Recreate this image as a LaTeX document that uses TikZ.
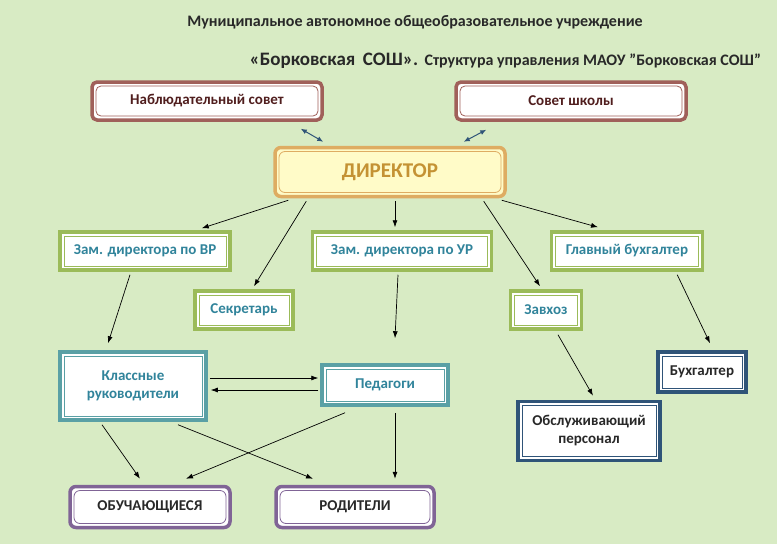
\documentclass[tikz,border=0pt]{standalone}
\usepackage{fontspec}
\setmainfont{Carlito}
\usetikzlibrary{arrows.meta,calc}
\definecolor{bg}{RGB}{216,235,196}
\definecolor{brn}{RGB}{160,96,90}
\definecolor{brntxt}{RGB}{80,30,30}
\definecolor{gold}{RGB}{222,172,98}
\definecolor{goldtxt}{RGB}{196,146,52}
\definecolor{dirfill}{RGB}{255,251,200}
\definecolor{grn}{RGB}{155,187,89}
\definecolor{teal}{RGB}{49,132,155}
\definecolor{tealb}{RGB}{90,160,165}
\definecolor{navy}{RGB}{47,84,120}
\definecolor{purp}{RGB}{128,100,150}
\definecolor{dk}{RGB}{40,40,40}
\tikzset{
  box/.style n args={3}{draw=#1,line width=3.5pt,fill=#2,text=#3,font=\bfseries\fontsize{15}{18}\selectfont,align=center,inner sep=0pt,
    path picture={\draw[#1,line width=0.8pt] ([shift={(4pt,-4pt)}]path picture bounding box.north west) rectangle ([shift={(-4pt,4pt)}]path picture bounding box.south east);}},
  sz/.style 2 args={minimum width=#1pt,minimum height=#2pt},
  conn/.style={-{Latex[length=7pt,width=5pt]},line width=0.7pt,draw=black},
  dbl/.style={{Latex[length=6pt,width=5pt]}-{Latex[length=6pt,width=5pt]},line width=1pt,draw=navy}
}
\begin{document}
\begin{tikzpicture}[x=1pt,y=-1pt]
\useasboundingbox[fill=bg] (0,0) rectangle (777,544);
\node[font=\bfseries\fontsize{16}{19}\selectfont,text=dk] (t1) at (415,22) {Муниципальное автономное общеобразовательное учреждение};
\node[font=\bfseries\fontsize{19}{22}\selectfont,text=dk,anchor=west] (t2) at (246,61) {«Борковская\, СОШ».};
\node[font=\bfseries\fontsize{16}{19}\selectfont,text=dk,anchor=west] (t3) at (421,61) {Структура управления МАОУ "Борковская СОШ"};

\node[box={brn}{white}{brntxt},sz={230}{38},rounded corners=5pt] (ns) at (207,101) {Наблюдательный совет};
\node[box={brn}{white}{brntxt},sz={230}{38},rounded corners=5pt] (ss) at (571,101) {Совет школы};
\node[box={gold}{dirfill}{goldtxt},sz={230}{49},rounded corners=6pt,font=\bfseries\fontsize{21}{24}\selectfont] (dir) at (390,172) {ДИРЕКТОР};

\node[box={grn}{white}{teal},sz={170}{38}] (vr) at (145,251) {Зам. директора по ВР};
\node[box={grn}{white}{teal},sz={179}{38}] (ur) at (402,251) {Зам. директора по  УР};
\node[box={grn}{white}{teal},sz={151}{38}] (gb) at (627,251) {Главный бухгалтер};
\node[box={grn}{white}{teal},sz={98}{38}] (sek) at (244,310) {Секретарь};
\node[box={grn}{white}{teal},sz={71}{38}] (zh) at (546,310) {Завхоз};

\node[box={tealb}{white}{teal},sz={146}{68}] (kr) at (133,386) {Классные\\руководители};
\node[box={tealb}{white}{teal},sz={126}{40}] (ped) at (385,385) {Педагоги};
\node[box={navy}{white}{dk},sz={88}{40}] (buh) at (702,372) {Бухгалтер};
\node[box={navy}{white}{dk},sz={142}{59}] (op) at (589,431) {Обслуживающий\\персонал};

\node[box={purp}{white}{dk},sz={160}{41},rounded corners=6pt] (ob) at (150,507) {ОБУЧАЮЩИЕСЯ};
\node[box={purp}{white}{dk},sz={158}{41},rounded corners=6pt] (rod) at (355,507) {РОДИТЕЛИ};

\draw[dbl] ([shift={(-23,7)}]ns.south east) -- ([shift={(50,-4)}]dir.north west);
\draw[dbl] ([shift={(-43,-4)}]dir.north east) -- ([shift={(32,8)}]ss.south west);

\draw[conn] ([shift={(15,2)}]dir.south west) -- ([shift={(-30,-2)}]vr.north east);
\draw[conn] ([shift={(33,3)}]dir.south west) -- ([shift={(10,-3)}]sek.north);
\draw[conn] ([shift={(5,3)}]dir.south) -- ([shift={(-7,-3)}]ur.north);
\draw[conn] ([shift={(-23,3)}]dir.south east) -- ([shift={(-6,-3)}]zh.north);
\draw[conn] ([shift={(-5,2)}]dir.south east) -- ([shift={(-29,-3)}]gb.north);

\draw[conn] ([shift={(-15,3)}]vr.south) -- ([shift={(-25,-7)}]kr.north);
\draw[conn] ([shift={(-4,3)}]ur.south) -- ([shift={(10,-25)}]ped.north);
\draw[conn] ([shift={(12,4)}]zh.south) -- ([shift={(4,-4)}]op.north);
\draw[conn] ([shift={(-27,3)}]gb.south east) -- ([shift={(8,-7)}]buh.north);

\draw[conn] ([shift={(2,-8)}]kr.east) -- ([shift={(-2,-7)}]ped.west);
\draw[conn] ([shift={(-2,5)}]ped.west) -- ([shift={(3,4)}]kr.east);

\draw[conn] ([shift={(-31,3)}]kr.south) -- ([shift={(-10,-6)}]ob.north);
\draw[conn] ([shift={(45,3)}]kr.south) -- ([shift={(-42,-6)}]rod.north);
\draw[conn] ([shift={(-40,6)}]ped.south) -- ([shift={(36,-6)}]ob.north);
\draw[conn] ([shift={(10,6)}]ped.south) -- ([shift={(40,-6)}]rod.north);
\end{tikzpicture}
\end{document}
